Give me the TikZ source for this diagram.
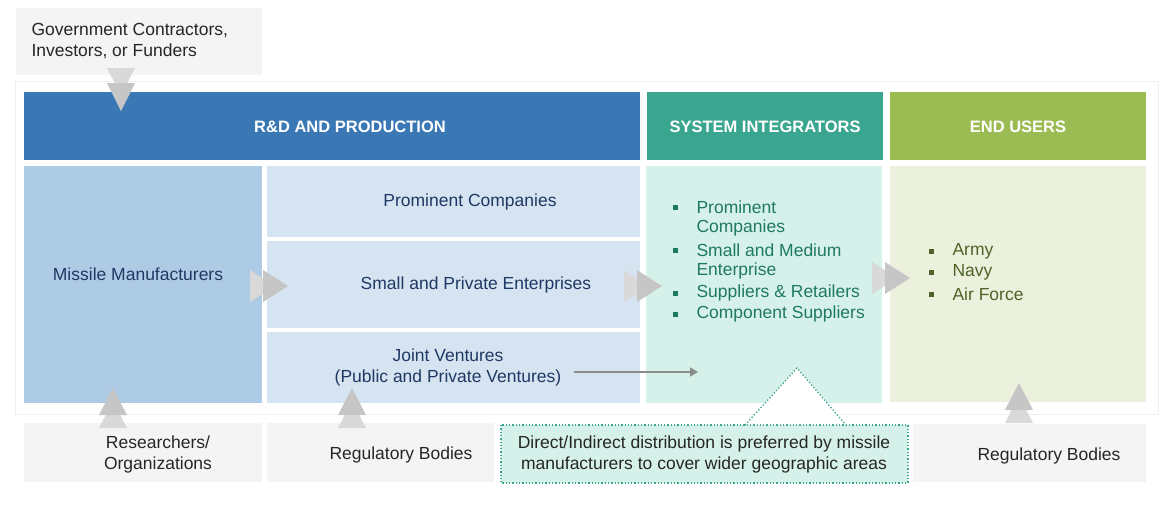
\documentclass[tikz,border=0pt]{standalone}
\usepackage{fontspec}
\setmainfont{Liberation Sans}
\usetikzlibrary{arrows.meta}
\begin{document}
\definecolor{hblue}{HTML}{3A78B5}\definecolor{hteal}{HTML}{3AA68F}\definecolor{hgreen}{HTML}{9BBB53}
\definecolor{mblue}{HTML}{AECBE6}\definecolor{lblue}{HTML}{D6E4F1}\definecolor{lteal}{HTML}{D6F1EA}
\definecolor{lgreen}{HTML}{EBF1DD}\definecolor{tblue}{HTML}{1F3864}\definecolor{tteal}{HTML}{1E7A5E}
\definecolor{tgreen}{HTML}{4F6228}\definecolor{gbox}{HTML}{F4F4F4}\definecolor{arr1}{HTML}{D9D9D9}\definecolor{arr2}{HTML}{C6C6C6}
\begin{tikzpicture}[x=1pt,y=-1pt,
 txt/.style={font=\fontsize{17.5}{21}\selectfont,align=center},
 head/.style={text=white,font=\fontsize{16.5}{19}\selectfont\bfseries},
 bul/.style={fill=#1,minimum size=5pt,inner sep=0},
 dots/.style={hteal,line width=1.3pt,dash pattern=on 1.3pt off 2pt}]
\useasboundingbox (0,0) rectangle (1170,507);
\fill[white] (0,0) rectangle (1170,507);
% gov box
\fill[gbox] (16,8) rectangle (262,75);
\node[txt,align=left,anchor=west,text=black!85] (gov) at (28,41) {Government Contractors,\\Investors, or Funders};
% frame
\draw[black!6,line width=1pt] (15,81) rectangle (1158,414);
% headers
\fill[hblue] (24,92) rectangle (640,160); \node[head] (h1) at (350,127) {R\&D AND PRODUCTION};
\fill[hteal] (647,92) rectangle (883,160); \node[head] (h2) at (765,127) {SYSTEM INTEGRATORS};
\fill[hgreen] (890,92) rectangle (1146,160); \node[head] (h3) at (1018,127) {END USERS};
% row
\fill[mblue] (24,166) rectangle (262,403); \node[txt,text=tblue] (mm) at (138,274) {Missile Manufacturers};
\fill[lblue] (267,166) rectangle (640,237); \node[txt,text=tblue] (pc) at (470,202) {Prominent Companies};
\fill[lblue] (267,241) rectangle (640,328); \node[txt,text=tblue] (sp) at (476,285) {Small and Private Enterprises};
\fill[lblue] (267,332) rectangle (640,403); \node[txt,text=tblue] (jv) at (448,367) {Joint Ventures\\(Public and Private Ventures)};
\fill[lteal] (646,166) rectangle (882,403);
\fill[lgreen] (890,166) rectangle (1146,402);
% teal list
\foreach \y/\t in {207/Prominent,228/Companies,250/Small and Medium,271/Enterprise,293/Suppliers \& Retailers,314/Component Suppliers}
  \node[txt,text=tteal,anchor=west] at (693,\y) {\t};
\foreach \y in {207,250,293,314} \node[bul=tteal] at (675,\y) {};
\foreach \y/\t in {251/Army,272/Navy,294/Air Force}
  {\node[txt,text=tgreen,anchor=west] at (949,\y) {\t}; \node[bul=tgreen] at (931,\y) {};}
% bottom boxes
\fill[gbox] (24,423) rectangle (262,482); \node[txt,text=black!85] (rs) at (158,454) {Researchers/\\Organizations};
\fill[gbox] (267,423) rectangle (494,482); \node[txt,text=black!85] (rb1) at (401,455) {Regulatory Bodies};
\fill[gbox] (913,424) rectangle (1146,482); \node[txt,text=black!85] (rb2) at (1049,456) {Regulatory Bodies};
% callout
\fill[lteal] (501,425) rectangle (908,483);
\draw[dots] (501,425) rectangle (908,483);
\fill[white] (745,424) -- (797,368) -- (846,424) -- cycle;
\draw[dots] (745,425) -- (797,368) -- (846,425);
\node[txt,text=black!85] (co) at (704,454) {Direct/Indirect distribution is preferred by missile\\manufacturers to cover wider geographic areas};
% chevron arrows
\fill[arr1] (107,68) -- (135,68) -- (121,95) -- cycle; \fill[arr2] (107,83) -- (135,83) -- (121,111) -- cycle;
\foreach \x/\y in {250/286,624/286,872/278}{
 \fill[arr1] (\x,\y-16) -- (\x,\y+16) -- (\x+25,\y) -- cycle;
 \fill[arr2] (\x+13,\y-16) -- (\x+13,\y+16) -- (\x+38,\y) -- cycle;}
\foreach \x/\y in {113/428,352/428,1019/423}{
 \fill[arr1] (\x-14,\y) -- (\x+14,\y) -- (\x,\y-27) -- cycle;
 \fill[arr2] (\x-14,\y-13) -- (\x+14,\y-13) -- (\x,\y-40) -- cycle;}
\coordinate (je) at (698,372);
\draw[black!45,line width=1.5pt,-{Triangle[length=8pt,width=9pt]}] (574,372) -- (je);
\end{tikzpicture}
\end{document}
